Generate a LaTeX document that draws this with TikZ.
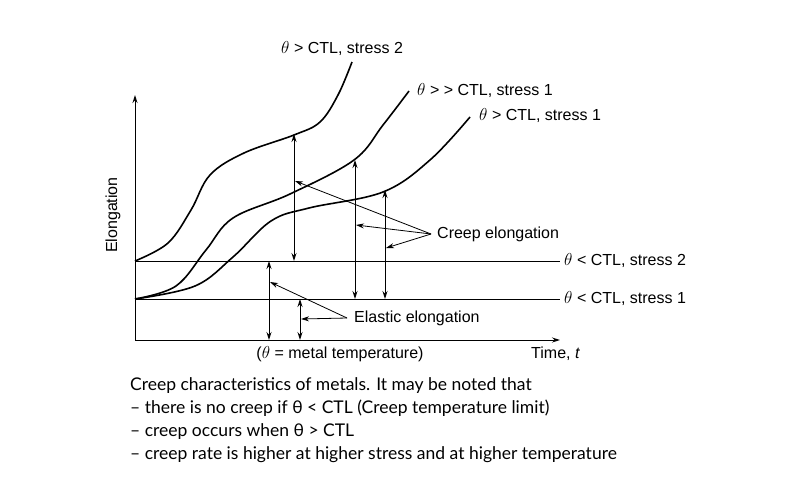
\documentclass[tikz,border=0pt]{standalone}
\usepackage{fontspec}
\setmainfont{Liberation Sans}
\newfontfamily\capfont{Lato}
\usetikzlibrary{arrows.meta}
\begin{document}
\begin{tikzpicture}[x=1pt,y=-1pt,
  tip/.style={-{Stealth[length=8pt,width=5pt]}},
  dtip/.style={{Stealth[length=8pt,width=5pt]}-{Stealth[length=8pt,width=5pt]}},
  lbl/.style={font=\fontsize{16}{18}\selectfont,inner sep=0pt},
  crv/.style={line width=1.6pt}]
\useasboundingbox (0,0) rectangle (803,482);
% axes
\coordinate (O) at (135,340);
\coordinate (Ytop) at (135,95);
\coordinate (Xend) at (560,340);
\draw[tip,line width=1pt] (O) -- (Ytop);
\draw[tip,line width=1pt] (O) -- (Xend);
\coordinate (s2a) at (135,261); \coordinate (s2b) at (560,261);
\coordinate (s1a) at (135,299); \coordinate (s1b) at (560,299);
\draw[line width=0.8pt] (s2a) -- (s2b);
\draw[line width=0.8pt] (s1a) -- (s1b);
\node[lbl,anchor=west] (l2) at (564,261) {$\theta$ < CTL, stress 2};
\node[lbl,anchor=west] (l1) at (564,299) {$\theta$ < CTL, stress 1};
\node[lbl,rotate=90] (ylab) at (113,215) {Elongation};
\node[lbl] (mt) at (340,354) {($\theta$ = metal temperature)};
\node[lbl,anchor=west] (tt) at (531,354) {Time, \textit{t}};
% curves
\draw[crv] plot[smooth,tension=0.6] coordinates {(135,261) (168,243) (191,210) (210,175) (244,153) (294,135) (320,122) (338,95) (352,62)};
\draw[crv] plot[smooth,tension=0.6] coordinates {(135,299) (176,286) (206,250) (233,218) (290,194) (354,160) (383,125) (409,91)};
\draw[crv] plot[smooth,tension=0.6] coordinates {(135,299) (195,286) (233,257) (271,221) (309,208) (383,192) (430,160) (470,117)};
\node[lbl,anchor=west] (c1) at (281,49) {$\theta$ > CTL, stress 2};
\node[lbl,anchor=west] (c2) at (417,91) {$\theta$ > > CTL, stress 1};
\node[lbl,anchor=west] (c3) at (479,116) {$\theta$ > CTL, stress 1};
% creep arrows
\coordinate (a1t) at (294,134); \coordinate (a1b) at (294,261);
\coordinate (a2t) at (355,160); \coordinate (a2b) at (355,299);
\coordinate (a3t) at (385,190); \coordinate (a3b) at (385,299);
\draw[dtip,line width=0.9pt] (a1b) -- (a1t);
\draw[dtip,line width=0.9pt] (a2b) -- (a2t);
\draw[dtip,line width=0.9pt] (a3b) -- (a3t);
\node[lbl,anchor=west] (ce) at (437,234) {Creep elongation};
\coordinate (cp) at (431,234);
\draw[tip,line width=0.8pt] (cp) -- (295,181);
\draw[tip,line width=0.8pt] (cp) -- (356,225);
\draw[tip,line width=0.8pt] (cp) -- (386,248);
% elastic arrows
\coordinate (e1t) at (269,261); \coordinate (e1b) at (269,340);
\coordinate (e2t) at (300,299); \coordinate (e2b) at (300,340);
\draw[dtip,line width=0.9pt] (e1b) -- (e1t);
\draw[dtip,line width=0.9pt] (e2b) -- (e2t);
\node[lbl,anchor=west] (ee) at (354,318) {Elastic elongation};
\coordinate (ep) at (347,318);
\draw[tip,line width=0.8pt] (ep) -- (270,282);
\draw[tip,line width=0.8pt] (ep) -- (301,319);
% caption
\node[anchor=north west,align=left,inner sep=0pt,font=\capfont\fontsize{17.5}{23.2}\selectfont] (cap) at (130,377)
{Creep characteristics of metals. It may be noted that\\
– there is no creep if θ < CTL (Creep temperature limit)\\
– creep occurs when θ > CTL\\
– creep rate is higher at higher stress and at higher temperature};
\end{tikzpicture}
\end{document}
